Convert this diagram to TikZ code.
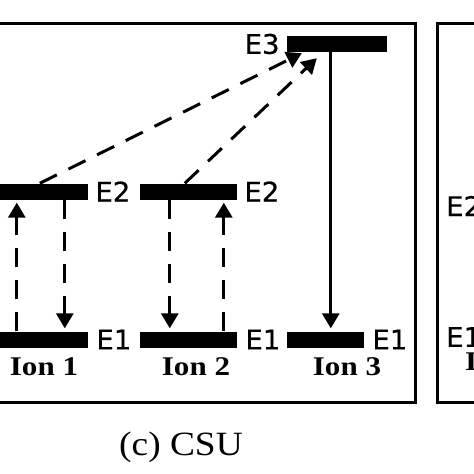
\documentclass[tikz,border=0pt]{standalone}
\usepackage{fontspec}
\setmainfont{Liberation Serif}
\newfontfamily\levelfont[FakeStretch=1.02,FakeBold=0.6]{DejaVu Sans}
\newfontfamily\ionfont[FakeStretch=1.15]{Liberation Serif}
\newfontfamily\capfont[FakeStretch=1.1]{Liberation Serif}
\usetikzlibrary{arrows.meta,positioning}

\tikzset{
  bar/.style={fill=black, inner sep=0pt, minimum height=16pt},
  level/.style={font=\levelfont\fontsize{27}{27}\selectfont, inner sep=0pt},
  ion/.style={font=\ionfont\bfseries\fontsize{27}{27}\selectfont, inner sep=0pt},
  trans/.style={line width=3pt, shorten >=3pt, -{Triangle[length=15pt,width=17pt]}},
  nonrad/.style={trans, dash pattern=on 19pt off 13pt},
}

\begin{document}
\begin{tikzpicture}[x=1pt,y=-1pt]
\clip (0,0) rectangle (474,474);

% frames
\draw[line width=3pt] (-10,23) rectangle (415,402);
\draw[line width=3pt] (437,23) rectangle (490,402);

% energy levels
\node[bar, minimum width=100pt] (e3) at (337,44) {};
\foreach \n/\cx in {1/39.5, 2/188.5}{
    \node[bar, minimum width=97pt] (e2-\n) at (\cx,191.5) {};
    \node[bar, minimum width=97pt] (e1-\n) at (\cx,339.5) {};
    \node[level, right=7pt of e2-\n] {E2};
    \node[level, right=8pt of e1-\n] {E1};
}
\node[bar, minimum width=77pt] (e1-3) at (325.5,339.5) {};
\node[level, right=8pt of e1-3] {E1};
\node[level, left=7pt of e3] {E3};

% ion names
\node[ion] at (44,367) {Ion 1};
\node[ion] at (196,367) {Ion 2};
\node[ion] at (347,367) {Ion 3};

% next panel (cut off)
\node[level, anchor=west] at (446,206) {E2};
\node[level, anchor=west] at (446,337) {E1};
\node[ion, anchor=west] at (465,362) {Ion 1};

% up / down transfer
\draw[nonrad] ([xshift=26pt]e1-1.north west) -- ([xshift=26pt]e2-1.south west);
\draw[nonrad] ([xshift=74pt]e2-1.south west) -- ([xshift=74pt]e1-1.north west);
\draw[nonrad] ([xshift=30pt]e2-2.south west) -- ([xshift=30pt]e1-2.north west);
\draw[nonrad] ([xshift=84pt]e1-2.north west) -- ([xshift=84pt]e2-2.south west);

% upconversion to E3
\draw[nonrad, shorten >=0pt] ([xshift=49pt]e2-1.north west) -- ([xshift=15pt,yshift=-1pt]e3.south west);
\draw[nonrad, shorten >=0pt] ([xshift=45pt]e2-2.north west) -- ([xshift=30pt,yshift=-6pt]e3.south west);

% emission of Ion 3
\draw[trans] ([xshift=44pt]e3.south west) -- ([xshift=44pt]e1-3.north west);

% caption
\node[font=\capfont\fontsize{34}{34}\selectfont] at (181,447) {(c) CSU};

\end{tikzpicture}
\end{document}
